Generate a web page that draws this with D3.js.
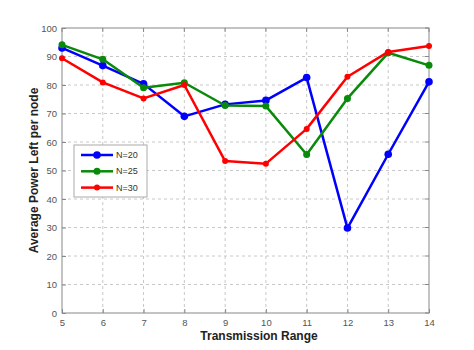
<!DOCTYPE html>
<html>
<head>
<meta charset="utf-8">
<script src="https://cdn.jsdelivr.net/npm/d3@7"></script>
<style>
  html, body { margin: 0; padding: 0; background: #fff; }
  svg { display: block; }
  text { font-family: Arial, "Liberation Sans", sans-serif; }
</style>
</head>
<body>
<svg id="chart" width="474" height="350"></svg>
<script>
// Transmission range on the x axis
const ranges = [5, 6, 7, 8, 9, 10, 11, 12, 13, 14];

// Average power left per node for each network size
const powerN20 = [93, 86.8, 80.4, 69, 73.2, 74.6, 82.6, 29.8, 55.7, 81.1];
const powerN25 = [94.1, 89, 79, 80.8, 72.8, 72.6, 55.6, 75.3, 91.3, 86.9];
const powerN30 = [89.4, 80.9, 75.3, 80, 53.3, 52.4, 64.6, 82.9, 91.6, 93.7];

const seriesNames = ["N=20", "N=25", "N=30"];
const seriesColors = ["#0000ff", "#0a8a0a", "#ff0000"];

const yTicks = [0, 10, 20, 30, 40, 50, 60, 70, 80, 90, 100];

const series = [powerN20, powerN25, powerN30].map((vals, i) => ({
  name: seriesNames[i],
  color: seriesColors[i],
  values: vals.map((v, j) => ({ x: ranges[j], y: v }))
}));

const margin = { left: 62, right: 45, top: 28, bottom: 37 };
const W = 474, H = 350;
const svg = d3.select("#chart");

const x = d3.scaleLinear().domain([5, 14]).range([margin.left, W - margin.right]);
const y = d3.scaleLinear().domain([0, 100]).range([H - margin.bottom, margin.top]);

// dashed grid
const grid = svg.append("g");
grid.selectAll("line.vx").data(ranges.slice(1, -1)).join("line")
  .attr("x1", d => x(d)).attr("x2", d => x(d))
  .attr("y1", y(0)).attr("y2", y(100))
  .attr("stroke", "#c8c8c8").attr("stroke-width", 1).attr("stroke-dasharray", "3,3");
grid.selectAll("line.hy").data(yTicks.slice(1, -1)).join("line")
  .attr("x1", x(5)).attr("x2", x(14))
  .attr("y1", d => y(d)).attr("y2", d => y(d))
  .attr("stroke", "#c8c8c8").attr("stroke-width", 1).attr("stroke-dasharray", "3,3");

// axes
const xAxis = svg.append("g").attr("transform", `translate(0,${y(0)})`)
  .call(d3.axisBottom(x).tickValues(ranges).tickFormat(d3.format("d")).tickSizeInner(-4).tickSizeOuter(0).tickPadding(6));
const yAxis = svg.append("g").attr("transform", `translate(${x(5)},0)`)
  .call(d3.axisLeft(y).tickValues(yTicks).tickSizeInner(-4).tickSizeOuter(0).tickPadding(5));
[xAxis, yAxis].forEach(a => {
  a.select(".domain").remove();
  a.selectAll(".tick line").attr("stroke", "#888");
  a.selectAll(".tick text").attr("fill", "#555").attr("font-size", 9.5);
});

// top and right ticks mirrored
svg.append("g").selectAll("line").data(ranges).join("line")
  .attr("x1", d => x(d)).attr("x2", d => x(d))
  .attr("y1", y(100)).attr("y2", y(100) + 4).attr("stroke", "#888");
svg.append("g").selectAll("line").data(yTicks).join("line")
  .attr("x1", x(14)).attr("x2", x(14) - 4)
  .attr("y1", d => y(d)).attr("y2", d => y(d)).attr("stroke", "#888");

// frame
svg.append("rect")
  .attr("x", x(5)).attr("y", y(100))
  .attr("width", x(14) - x(5)).attr("height", y(0) - y(100))
  .attr("fill", "none").attr("stroke", "#888").attr("stroke-width", 1);

// series lines and markers
const line = d3.line().x(d => x(d.x)).y(d => y(d.y));
const markerR = [3.8, 3.5, 3];
series.forEach((s, i) => {
  const g = svg.append("g");
  g.append("path").datum(s.values)
    .attr("d", line).attr("fill", "none")
    .attr("stroke", s.color).attr("stroke-width", 2.5).attr("stroke-linejoin", "round");
  g.selectAll("circle").data(s.values).join("circle")
    .attr("cx", d => x(d.x)).attr("cy", d => y(d.y)).attr("r", markerR[i])
    .attr("fill", s.color);
});

// legend
const legend = svg.append("g");
legend.append("rect")
  .attr("x", 74).attr("y", 145).attr("width", 73).attr("height", 52)
  .attr("fill", "#fff").attr("stroke", "#aaa").attr("stroke-width", 1);
series.forEach((s, i) => {
  const ly = 155 + i * 16.3;
  legend.append("line").attr("x1", 81).attr("x2", 113).attr("y1", ly).attr("y2", ly)
    .attr("stroke", s.color).attr("stroke-width", 2.5);
  legend.append("circle").attr("cx", 97).attr("cy", ly).attr("r", markerR[i]).attr("fill", s.color);
  legend.append("text").attr("x", 116).attr("y", ly).attr("dy", "0.35em")
    .attr("font-size", 9).attr("fill", "#333").text(s.name);
});

// axis titles
svg.append("text")
  .attr("x", 259).attr("y", 340)
  .attr("text-anchor", "middle").attr("font-size", 12).attr("font-weight", "bold").attr("fill", "#222")
  .text("Transmission Range");
svg.append("text")
  .attr("transform", `translate(38,${(y(0) + y(100)) / 2}) rotate(-90)`)
  .attr("text-anchor", "middle").attr("font-size", 12).attr("font-weight", "bold").attr("fill", "#222")
  .text("Average Power Left per node");
</script>
</body>
</html>
